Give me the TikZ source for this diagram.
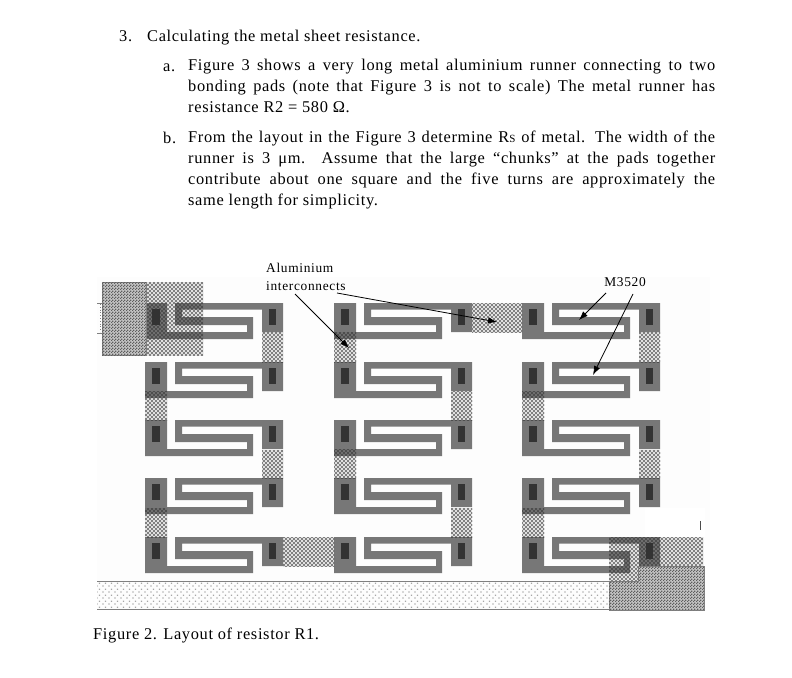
\documentclass[tikz,border=0pt]{standalone}
\usepackage{fontspec}
\setmainfont[LetterSpace=4]{Liberation Serif}
\newfontfamily\labelfont[LetterSpace=5]{Liberation Serif}
\usepackage{tikz}
\usetikzlibrary{patterns,arrows.meta}

\definecolor{paper}{HTML}{FDFDFD}
\definecolor{hatchgray}{HTML}{808080}
\definecolor{stripgray}{HTML}{A6A6A6}
\definecolor{padgray}{HTML}{C4C4C4}
\definecolor{padline}{HTML}{808080}
\definecolor{paddot}{HTML}{5E5E5E}
\definecolor{contactgray}{HTML}{333333}

\pgfdeclarepatternformonly{chunkhatch}{\pgfqpoint{-.5pt}{-.5pt}}{\pgfqpoint{4.5pt}{4.5pt}}{\pgfqpoint{4pt}{4pt}}{
  \pgfsetlinewidth{.95pt}
  \pgfpathmoveto{\pgfqpoint{0pt}{0pt}}\pgfpathlineto{\pgfqpoint{4pt}{4pt}}
  \pgfpathmoveto{\pgfqpoint{0pt}{4pt}}\pgfpathlineto{\pgfqpoint{4pt}{0pt}}
  \pgfusepath{stroke}}
\pgfdeclarepatternformonly{paddots}{\pgfqpoint{0pt}{0pt}}{\pgfqpoint{3pt}{3pt}}{\pgfqpoint{3pt}{3pt}}{
  \pgfpathrectangle{\pgfqpoint{0pt}{0pt}}{\pgfqpoint{1.5pt}{1.5pt}}
  \pgfpathrectangle{\pgfqpoint{1.5pt}{1.5pt}}{\pgfqpoint{1.5pt}{1.5pt}}
  \pgfusepath{fill}}
\pgfdeclarepatternformonly{stripdots}{\pgfqpoint{0pt}{0pt}}{\pgfqpoint{6pt}{6pt}}{\pgfqpoint{6pt}{6pt}}{
  \pgfpathrectangle{\pgfqpoint{.4pt}{.4pt}}{\pgfqpoint{1.4pt}{1.4pt}}
  \pgfpathrectangle{\pgfqpoint{3.4pt}{3.4pt}}{\pgfqpoint{1.4pt}{1.4pt}}
  \pgfusepath{fill}}

\tikzset{
  bodytext/.style={font=\fontsize{16.4}{21}\selectfont,inner sep=0pt},
  parablock/.style={bodytext,anchor=north west,text width=527pt,align=justify},
  smalllabel/.style={font=\labelfont\fontsize{13.4}{18}\selectfont,inner sep=0pt},
  chunk/.style={pattern=chunkhatch,pattern color=hatchgray},
  metal/.style={fill=black!80,fill opacity=.66},
  contact/.style={fill=contactgray},
  bondpad/.style={fill=padgray,draw=padline,line width=.8pt},
  padtex/.style={pattern=paddots,pattern color=paddot},
  callout/.style={-{Latex[length=9pt,width=6.5pt]},line width=.8pt}
}

\newcommand{\mrunner}[2]{
  \fill[metal,shift={(#1,#2)}] (0,0) -- (22,0) -- (22,29) -- (102,29) -- (102,22) -- (30,22) -- (30,0)
    -- (138,0) -- (138,29) -- (117,29) -- (117,6.5) -- (37,6.5) -- (37,14) -- (108,14) -- (108,36) -- (0,36) -- cycle;
  \fill[contact,shift={(#1,#2)}] (7,6) rectangle (15,22);
  \fill[contact,shift={(#1,#2)}] (124,6) rectangle (131,22);
}

\begin{document}
\begin{tikzpicture}[x=1pt,y=-1pt]
  \useasboundingbox (0,0) rectangle (792,677);
  \fill[white] (0,0) rectangle (792,677);
  \fill[paper] (97,277) rectangle (710,610);
  \fill[white] (645,508) rectangle (705,537);

  \node[bodytext,anchor=base west] (num) at (119,42) {3.};
  \node[bodytext,anchor=base west] (head) at (147,42) {Calculating the metal sheet resistance.};
  \node[bodytext,anchor=base west] (itema) at (163,71) {a.};
  \node[parablock] (paraa) at (188,59) {Figure 3 shows a very long metal aluminium runner connecting to two\linebreak bonding pads (note that Figure 3 is not to scale) The metal runner has\linebreak resistance R2 = 580 Ω.};
  \node[bodytext,anchor=base west] (itemb) at (163,143) {b.};
  \node[parablock] (parab) at (188,131) {From the layout in the Figure 3 determine R{\fontsize{11}{12}\selectfont S} of metal. The width of the\linebreak runner is 3 μm. Assume that the large “chunks” at the pads together\linebreak contribute about one square and the five turns are approximately the\linebreak same length for simplicity.};

  \foreach \xa/\ya/\xb/\yb in {146/282/203/355, 262/332/283/362, 145/391/167/420, 262/450/283/478, 145/508/167/537,
      283/537/334/566, 451/508/472/537, 334/449/356/478, 451/391/472/420, 334/332/356/362, 472/303/522/332,
      639/332/660/362, 522/391/544/420, 639/450/660/478, 522/508/544/537, 638/537/703/566, 609/537/638/581}
    \fill[chunk] (\xa,\ya) rectangle (\xb,\yb);

  \foreach \colx in {145,334,522}
    \foreach \rowy in {303,362,420,478,537}
      {\mrunner{\colx}{\rowy}}

  \fill[pattern=stripdots,pattern color=stripgray] (97,581) rectangle (609,609);
  \draw[padline,line width=.8pt] (97,581) -- (609,581);
  \draw[padline,line width=.8pt] (97,609.5) -- (609,609.5);

  \draw[bondpad] (102,282) rectangle (146,355);
  \fill[padtex] (102,282) rectangle (146,355);
  \draw[bondpad] (638,566) -- (704,566) -- (704,610) -- (609,610) -- (609,581) -- (638,581) -- cycle;
  \fill[padtex] (638,566) -- (704,566) -- (704,610) -- (609,610) -- (609,581) -- (638,581) -- cycle;

  \draw[padline,line width=.8pt] (97,303) -- (102,303);
  \draw[padline,line width=.8pt] (97,333) -- (102,333);
  \draw[padline,dotted,line width=.8pt] (100,304) -- (100,332);
  \fill[black!70] (700.4,521) rectangle (701.4,530);

  \node[smalllabel,anchor=base west] (allabel) at (266,272) {Aluminium};
  \node[smalllabel,anchor=base west] (intlabel) at (266,290) {interconnects};
  \node[smalllabel,anchor=base] (mlabel) at (625,286) {M3520};

  \coordinate (intstarta) at (295,294);
  \coordinate (intstartb) at (337,293);
  \coordinate (mstarta) at (606,293);
  \coordinate (mstartb) at (633,294);
  \coordinate (chunkleft) at (349,348);
  \coordinate (chunktop) at (497,322);
  \coordinate (runnertop) at (579,320);
  \coordinate (runnernext) at (593,375);
  \draw[callout] (intstarta) -- (chunkleft);
  \draw[callout] (intstartb) -- (chunktop);
  \draw[callout] (mstarta) -- (runnertop);
  \draw[callout] (mstartb) -- (runnernext);

  \node[bodytext,anchor=base west] (caption) at (93,639) {Figure 2. Layout of resistor R1.};
\end{tikzpicture}
\end{document}
